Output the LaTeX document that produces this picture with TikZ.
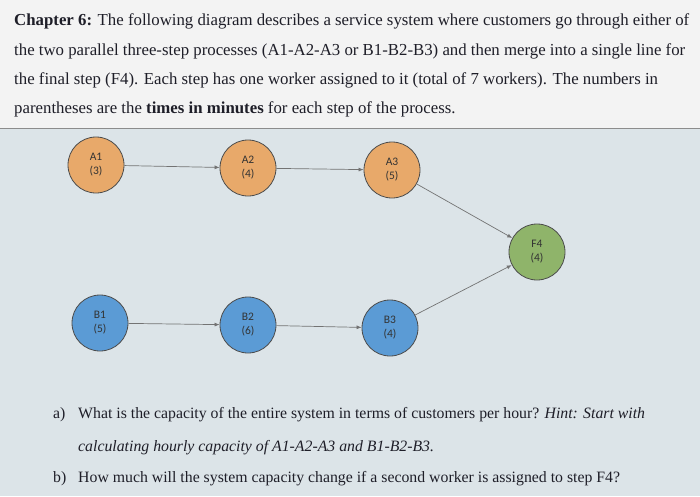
\documentclass[tikz,border=0pt]{standalone}
\usepackage{fontspec}
\setmainfont{Liberation Serif}
\newfontfamily\diag{Carlito}
\usetikzlibrary{arrows.meta}
\definecolor{orng}{HTML}{E8A96A}
\definecolor{blu}{HTML}{5B9BD5}
\definecolor{grn}{HTML}{8FB46A}
\definecolor{bgl}{HTML}{DCE4E8}
\definecolor{bgt}{HTML}{F3F3F3}
\definecolor{txt}{HTML}{1E1E28}
\begin{document}
\begin{tikzpicture}[x=1pt,y=-1pt,
  stn/.style={circle,draw=black!70,line width=0.8pt,minimum size=56pt,inner sep=0pt,align=center,font=\diag\fontsize{11.5}{14}\selectfont,text=black!80},
  conn/.style={draw=black!55,line width=0.7pt,-{Latex[length=5pt,width=4pt]}},
  ln/.style={anchor=base west,inner sep=0pt,text=txt,font=\fontsize{16.8}{18}\selectfont},
  lnb/.style={ln,font=\fontsize{15.8}{18}\selectfont}]
\useasboundingbox (0,0) rectangle (700,496);
\fill[bgt] (0,0) rectangle (700,128);
\fill[bgl] (0,128) rectangle (700,496);
\draw[black!45,line width=1pt] (0,128) -- (700,128);
\node[ln] (t1) at (14,25) {\textbf{Chapter 6:} The following diagram describes a service system where customers go through either of};
\node[ln] (t2) at (14,55) {the two parallel three-step processes (A1-A2-A3 or B1-B2-B3) and then merge into a single line for};
\node[ln] (t3) at (14,84) {the final step (F4). Each step has one worker assigned to it (total of 7 workers). The numbers in};
\node[ln] (t4) at (14,113) {parentheses are the \textbf{times in minutes} for each step of the process.};
\node[stn,fill=orng] (A1) at (96,165) {A1\\(3)};
\node[stn,fill=orng] (A2) at (248,168) {A2\\(4)};
\node[stn,fill=orng] (A3) at (392,170) {A3\\(5)};
\node[stn,fill=grn] (F4) at (537,252) {F4\\(4)};
\node[stn,fill=blu] (B1) at (100,323) {B1\\(5)};
\node[stn,fill=blu] (B2) at (248,325) {B2\\(6)};
\node[stn,fill=blu] (B3) at (390,328) {B3\\(4)};
\draw[conn] (A1) -- (A2);
\draw[conn] (A2) -- (A3);
\draw[conn] (B1) -- (B2);
\draw[conn] (B2) -- (B3);
\draw[conn] (A3) -- (F4);
\draw[conn] (B3) -- (F4);
\node[lnb] (qa) at (53,418) {a)};
\node[lnb] (qa1) at (78,418) {What is the capacity of the entire system in terms of customers per hour? \textit{Hint: Start with}};
\node[lnb] (qa2) at (78,451) {\textit{calculating hourly capacity of A1-A2-A3 and B1-B2-B3.}};
\node[lnb] (qb) at (53,482) {b)};
\node[lnb] (qb1) at (78,482) {How much will the system capacity change if a second worker is assigned to step F4?};
\end{tikzpicture}
\end{document}
